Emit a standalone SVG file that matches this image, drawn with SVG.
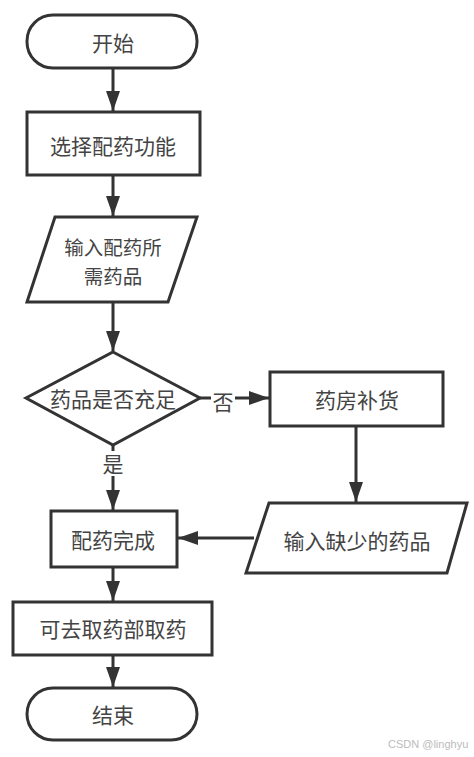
<svg xmlns="http://www.w3.org/2000/svg" width="474" height="757" viewBox="0 0 474 757">
<style>
.n{fill:#fff;stroke:#333;stroke-width:3}
.t{font-family:"Noto Sans CJK SC","Liberation Sans",sans-serif;font-size:21px;fill:#444;text-anchor:middle;dominant-baseline:central}
.s{font-size:19.5px}
.c{fill:none;stroke:#333;stroke-width:3}
.w{font-family:"Liberation Sans",sans-serif;font-size:11px;fill:#bbb}
</style>
<defs>
<marker id="a" markerUnits="userSpaceOnUse" markerWidth="22" markerHeight="16" refX="20" refY="7" orient="auto">
<path d="M0,0 L20,7 L0,14 Z" fill="#333"/>
</marker>
</defs>
<rect width="474" height="757" fill="#fff"/>
<g id="connectors">
<line class="c" x1="113" y1="68" x2="113" y2="111" marker-end="url(#a)"/>
<line class="c" x1="113" y1="175" x2="113" y2="216" marker-end="url(#a)"/>
<line class="c" x1="113" y1="302" x2="113" y2="351" marker-end="url(#a)"/>
<line class="c" x1="200" y1="398" x2="269" y2="398" marker-end="url(#a)"/>
<line class="c" x1="113" y1="445" x2="113" y2="510" marker-end="url(#a)"/>
<line class="c" x1="356" y1="426" x2="356" y2="502" marker-end="url(#a)"/>
<line class="c" x1="254" y1="538" x2="178" y2="538" marker-end="url(#a)"/>
<line class="c" x1="113" y1="567" x2="113" y2="601" marker-end="url(#a)"/>
<line class="c" x1="113" y1="655" x2="113" y2="687" marker-end="url(#a)"/>
<rect x="211" y="388" width="24" height="24" fill="#fff"/>
<text class="t" x="223" y="401">否</text>
<rect x="101" y="451" width="24" height="25" fill="#fff"/>
<text class="t" x="113" y="463">是</text>
</g>
<g id="start">
<rect class="n" x="27" y="15" width="170" height="53" rx="26"/>
<text class="t" x="113" y="42">开始</text>
</g>
<g id="select">
<rect class="n" x="27" y="112" width="173" height="63"/>
<text class="t" x="113" y="145">选择配药功能</text>
</g>
<g id="input">
<polygon class="n" points="55,217 197,217 168,302 27,302"/>
<text class="t s"><tspan x="113" y="246">输入配药所</tspan><tspan x="113" y="275">需药品</tspan></text>
</g>
<g id="decision">
<polygon class="n" points="113,352 200,398 113,445 26,398"/>
<text class="t" x="113" y="398">药品是否充足</text>
</g>
<g id="restock">
<rect class="n" x="270" y="372" width="173" height="54"/>
<text class="t" x="357" y="399">药房补货</text>
</g>
<g id="inputMissing">
<polygon class="n" points="269,503 467,503 447,573 246,573"/>
<text class="t" x="357" y="540">输入缺少的药品</text>
</g>
<g id="done">
<rect class="n" x="51" y="511" width="126" height="56"/>
<text class="t" x="113" y="539">配药完成</text>
</g>
<g id="pickup">
<rect class="n" x="13" y="602" width="199" height="53"/>
<text class="t" x="113" y="628">可去取药部取药</text>
</g>
<g id="end">
<rect class="n" x="27" y="688" width="170" height="52" rx="26"/>
<text class="t" x="113" y="714">结束</text>
</g>
<text class="w" x="388" y="748">CSDN @linghyu</text>
</svg>
